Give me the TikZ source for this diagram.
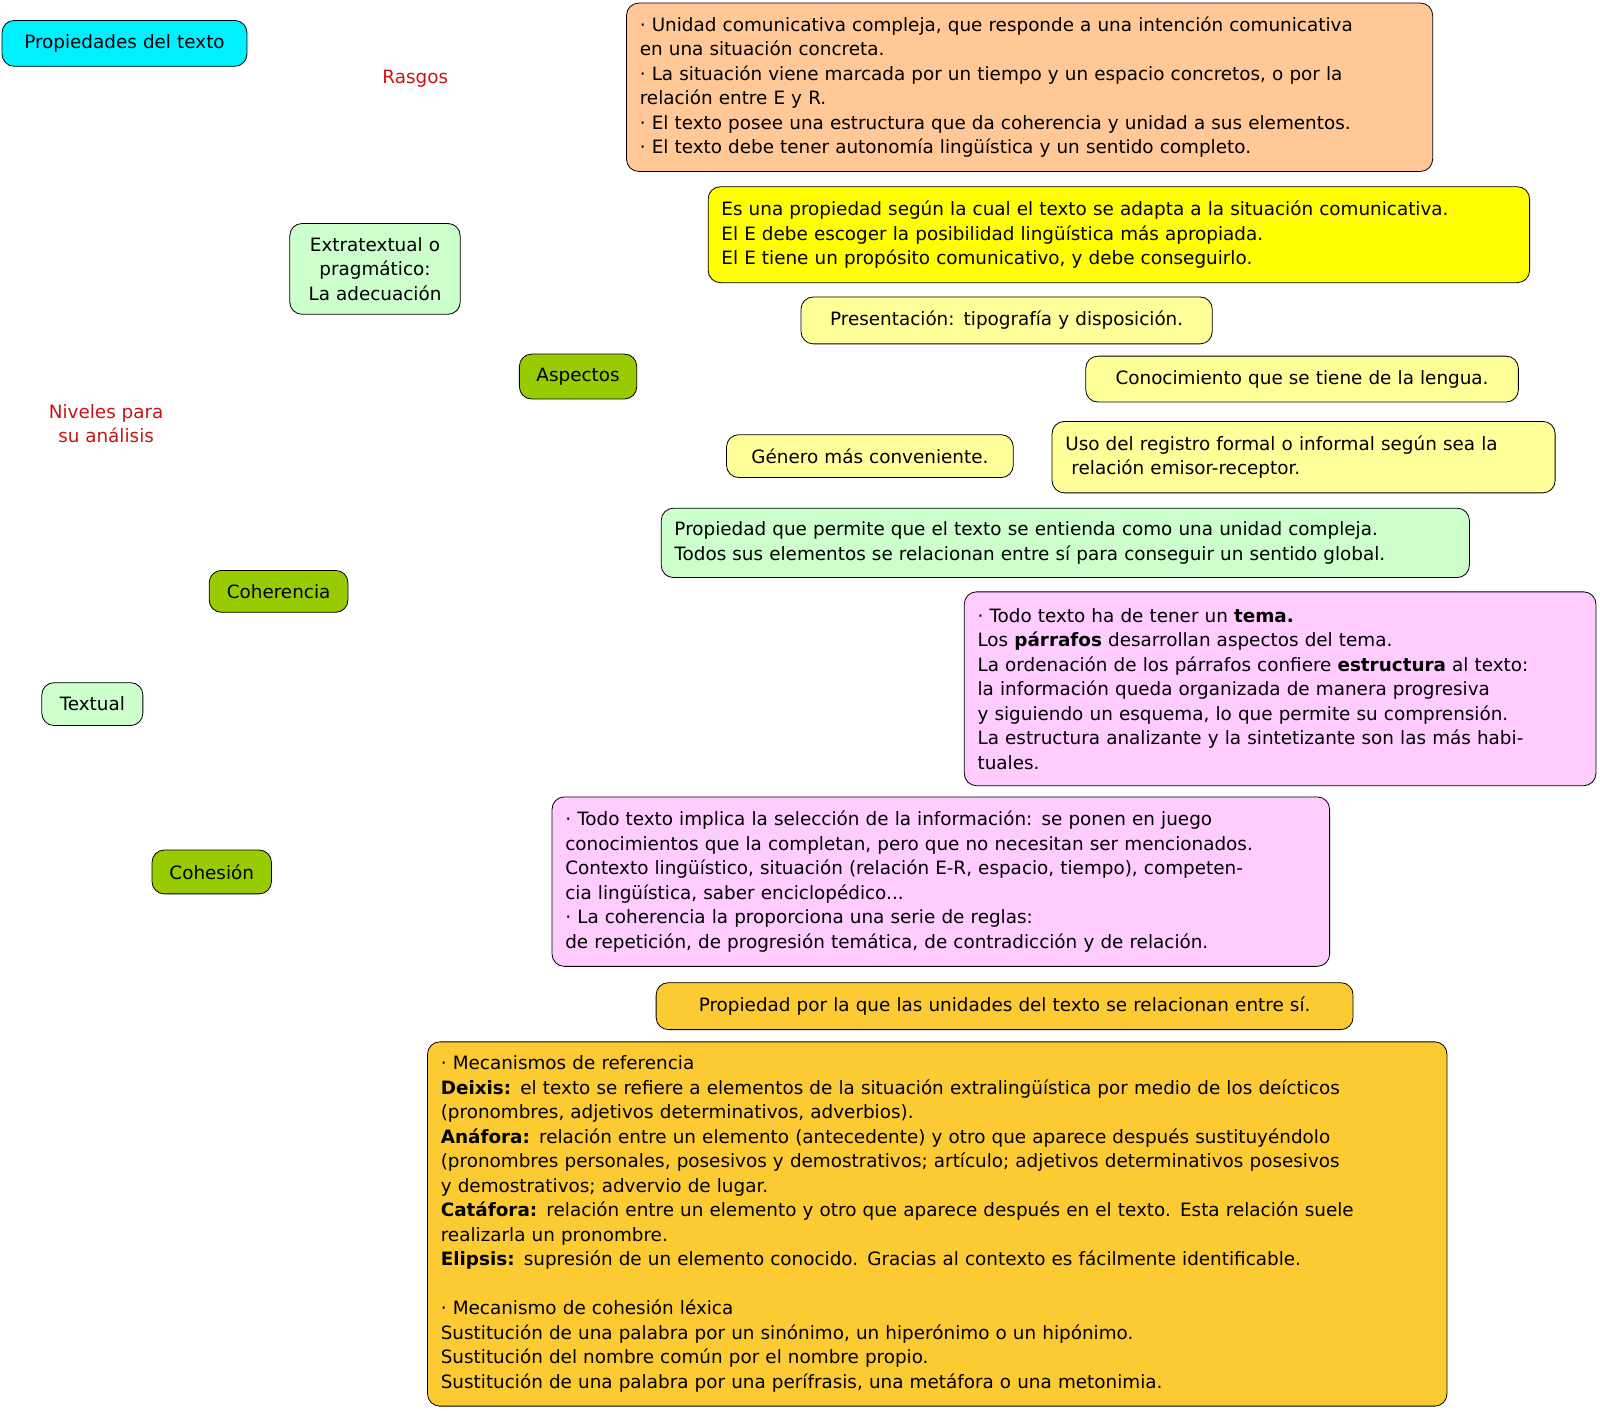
\documentclass[tikz,border=0pt]{standalone}
\usepackage{fontspec}
\setmainfont{DejaVu Sans}
\usetikzlibrary{arrows.meta,backgrounds}
\definecolor{cCyan}{RGB}{0,240,255}
\definecolor{cPeach}{RGB}{255,200,150}
\definecolor{cLG}{RGB}{204,255,204}
\definecolor{cYel}{RGB}{255,255,0}
\definecolor{cGreen}{RGB}{153,204,0}
\definecolor{cLY}{RGB}{255,255,153}
\definecolor{cPink}{RGB}{255,204,255}
\definecolor{cGold}{RGB}{252,203,51}
\definecolor{cRed}{RGB}{200,20,20}
\tikzset{
  box/.style={draw,rounded corners=6pt,inner sep=2pt,font=\fontsize{9}{12}\selectfont},
  lbl/.style={text=cRed,font=\fontsize{9}{12}\selectfont,align=center,inner sep=1pt},
  con/.style={draw,line width=0.6pt},
  arr/.style={con,-{Triangle[length=8pt,width=7pt]}}
}
\newcommand\bx[8]{\pgfmathsetmacro\tw{(#4-#2-26)*0.5}\node[box,fill=#6,align=#7,minimum width={(#4-#2)*0.5pt},minimum height={(#5-#3)*0.5pt},text width=\tw pt] (#1) at ({(#2+#4)/2},{(#3+#5)/2}) {#8};}
\begin{document}
\begin{tikzpicture}[x=0.5pt,y=-0.5pt]
\useasboundingbox[fill=white] (0,0) rectangle (1568,1382);
\bx{prop}{2}{20}{242}{65}{cCyan}{center}{Propiedades del texto}
\bx{rasg}{614}{3}{1404}{168}{cPeach}{left}{· Unidad comunicativa compleja, que responde a una intención comunicativa\\en una situación concreta.\\· La situación viene marcada por un tiempo y un espacio concretos, o por la\\relación entre E y R.\\· El texto posee una estructura que da coherencia y unidad a sus elementos.\\· El texto debe tener autonomía lingüística y un sentido completo.}
\bx{extra}{284}{219}{451}{308}{cLG}{center}{Extratextual o\\pragmático:\\La adecuación}
\bx{yel}{694}{183}{1499}{277}{cYel}{left}{Es una propiedad según la cual el texto se adapta a la situación comunicativa.\\El E debe escoger la posibilidad lingüística más apropiada.\\El E tiene un propósito comunicativo, y debe conseguirlo.}
\bx{asp}{509}{347}{624}{391}{cGreen}{center}{Aspectos}
\bx{pres}{785}{291}{1188}{337}{cLY}{center}{Presentación: tipografía y disposición.}
\bx{cono}{1064}{349}{1488}{394}{cLY}{center}{Conocimiento que se tiene de la lengua.}
\bx{gen}{712}{426}{993}{468}{cLY}{center}{Género más conveniente.}
\bx{uso}{1031}{413}{1524}{483}{cLY}{left}{Uso del registro formal o informal según sea la\\\ relación emisor-receptor.}
\bx{coh}{205}{559}{341}{600}{cGreen}{center}{Coherencia}
\bx{ppm}{648}{498}{1440}{566}{cLG}{left}{Propiedad que permite que el texto se entienda como una unidad compleja.\\Todos sus elementos se relacionan entre sí para conseguir un sentido global.}
\bx{tema}{945}{580}{1564}{770}{cPink}{left}{· Todo texto ha de tener un \textbf{tema.}\\Los \textbf{párrafos} desarrollan aspectos del tema.\\La ordenación de los párrafos confiere \textbf{estructura} al texto:\\la información queda organizada de manera progresiva\\y siguiendo un esquema, lo que permite su comprensión.\\La estructura analizante y la sintetizante son las más habi-\\tuales.}
\bx{text}{41}{669}{140}{711}{cLG}{center}{Textual}
\bx{impl}{541}{781}{1303}{947}{cPink}{left}{· Todo texto implica la selección de la información: se ponen en juego\\conocimientos que la completan, pero que no necesitan ser mencionados.\\Contexto lingüístico, situación (relación E-R, espacio, tiempo), competen-\\cia lingüística, saber enciclopédico...\\· La coherencia la proporciona una serie de reglas:\\de repetición, de progresión temática, de contradicción y de relación.}
\bx{cohe}{149}{833}{266}{876}{cGreen}{center}{Cohesión}
\bx{ppq}{643}{963}{1326}{1009}{cGold}{center}{Propiedad por la que las unidades del texto se relacionan entre sí.}
\bx{big}{419}{1021}{1418}{1378}{cGold}{left}{· Mecanismos de referencia\\\textbf{Deixis:} el texto se refiere a elementos de la situación extralingüística por medio de los deícticos\\(pronombres, adjetivos determinativos, adverbios).\\\textbf{Anáfora:} relación entre un elemento (antecedente) y otro que aparece después sustituyéndolo\\(pronombres personales, posesivos y demostrativos; artículo; adjetivos determinativos posesivos\\y demostrativos; advervio de lugar.\\\textbf{Catáfora:} relación entre un elemento y otro que aparece después en el texto. Esta relación suele\\realizarla un pronombre.\\\textbf{Elipsis:} supresión de un elemento conocido. Gracias al contexto es fácilmente identificable.\\[12pt]· Mecanismo de cohesión léxica\\Sustitución de una palabra por un sinónimo, un hiperónimo o un hipónimo.\\Sustitución del nombre común por el nombre propio.\\Sustitución de una palabra por una perífrasis, una metáfora o una metonimia.}
\node[lbl] (ras) at (407,77) {Rasgos};
\node[lbl] (niv) at (104,415) {Niveles para\\su análisis};
\coordinate (pA) at (120,68);
\coordinate (pB) at (247,60);
\coordinate (rA) at (608,80);
\coordinate (nA) at (150,390);
\coordinate (eA) at (278,316);
\begin{scope}[on background layer]
\draw[con] (pA) -- (niv.north);
\draw[con] (niv.south) -- (text.north);
\draw[con] (pB) -- (ras.west);
\draw[arr] (ras.east) -- (rA);
\draw[arr] (nA) -- (eA);
\draw[con] (extra.east) -- (yel.west);
\draw[con] (455,311) -- (asp.north west);
\draw[con] (asp.east) -- ([xshift=32pt]pres.south west);
\draw[con] (asp.east) -- (cono.west);
\draw[con] (asp.east) -- ([xshift=5pt]uso.north west);
\draw[con] (asp.east) -- ([xshift=63pt]gen.north west);
\draw[con] (text.north east) -- (coh.south);
\draw[con] (coh.east) -- (ppm.west);
\draw[con] (341,586) -- (tema.west);
\draw[con] (311,604) -- ([xshift=22pt]impl.north west);
\draw[con] (108,715) -- (cohe.north);
\draw[con] (270,868) -- ([xshift=44pt]ppq.north west);
\draw[con] (252,881) -- ([xshift=34pt]big.north west);
\end{scope}
\end{tikzpicture}
\end{document}
